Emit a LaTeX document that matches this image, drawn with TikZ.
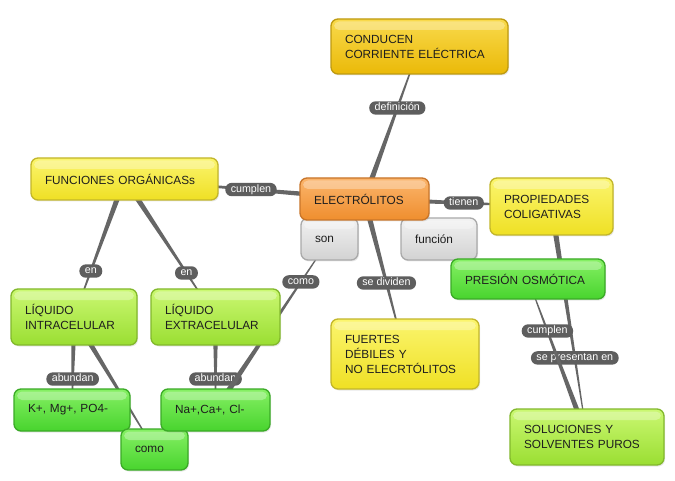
\documentclass[tikz,border=0pt]{standalone}
\usepackage{fontspec}
\setmainfont{Liberation Sans}
\usetikzlibrary{calc,shadows}
\pgfdeclarelayer{background}
\pgfsetlayers{background,main}
\definecolor{linkc}{HTML}{666666}
\definecolor{pillc}{HTML}{5E5E5E}
\definecolor{txtc}{HTML}{1E1E1E}
\definecolor{goldT}{HTML}{F9DA4C}
\definecolor{goldB}{HTML}{EAB908}
\definecolor{goldD}{HTML}{BE9A10}
\definecolor{oraT}{HTML}{FBB56C}
\definecolor{oraB}{HTML}{EF8E2E}
\definecolor{oraD}{HTML}{C8752A}
\definecolor{grayT}{HTML}{F2F2F2}
\definecolor{grayB}{HTML}{D2D2D2}
\definecolor{grayD}{HTML}{A9A9A9}
\definecolor{yelT}{HTML}{FBF56E}
\definecolor{yelB}{HTML}{EFE024}
\definecolor{yelD}{HTML}{C2B62A}
\definecolor{grnT}{HTML}{86F064}
\definecolor{grnB}{HTML}{48D42E}
\definecolor{grnD}{HTML}{3AAA26}
\definecolor{ygT}{HTML}{CBF872}
\definecolor{ygB}{HTML}{9ADE32}
\definecolor{ygD}{HTML}{82B82C}
\newcommand{\boxfont}{\fontsize{11.8}{15}\selectfont}
\newcommand{\pillfont}{\fontsize{10.7}{12}\selectfont}
\newcommand{\taperlink}[2]{%
  \fill[linkc] ($(#1.center)!2.9pt!90:(#2.center)$) -- ($(#2.center)!0.3pt!-90:(#1.center)$)
    -- ($(#2.center)!0.3pt!90:(#1.center)$) -- ($(#1.center)!2.9pt!-90:(#2.center)$) -- cycle;}
\tikzset{
  box/.style={rounded corners=7pt, line width=1.3pt, align=left, inner xsep=14pt, inner ysep=0pt,
    font=\boxfont, text=txtc,
    drop shadow={opacity=0.18, shadow xshift=1pt, shadow yshift=-1.5pt},
    path picture={\fill[white, opacity=0.3, rounded corners=5pt]
      ($(path picture bounding box.north west)+(3pt,-2.5pt)$) rectangle
      ($(path picture bounding box.north east)+(-3pt,-11pt)$);}},
  goldbox/.style={box, top color=goldT, bottom color=goldB, draw=goldD},
  orabox/.style={box, top color=oraT, bottom color=oraB, draw=oraD},
  graybox/.style={box, top color=grayT, bottom color=grayB, draw=grayD},
  yelbox/.style={box, top color=yelT, bottom color=yelB, draw=yelD},
  grnbox/.style={box, top color=grnT, bottom color=grnB, draw=grnD},
  ygbox/.style={box, top color=ygT, bottom color=ygB, draw=ygD},
  pill/.style={fill=pillc, text=white, rounded corners=6.5pt, inner xsep=5.5pt, inner ysep=0pt,
    minimum height=13.4pt, font=\pillfont, text height=7.8pt, text depth=2.2pt},
}
\begin{document}
\begin{tikzpicture}[x=1pt,y=-1pt]
\useasboundingbox (0,0) rectangle (675,481);
% boxes
\node[goldbox, minimum width=177pt, minimum height=55pt, text width=149pt] (cond) at (419.5,46.5) {CONDUCEN\\CORRIENTE ELÉCTRICA};
\node[graybox, minimum width=57pt, minimum height=42pt, text width=29pt] (son) at (329.5,239) {son};
\node[graybox, minimum width=76pt, minimum height=42pt, text width=48pt] (func) at (439,239) {función};
\node[orabox, minimum width=129pt, minimum height=42pt, text width=101pt] (elec) at (364.5,199) {ELECTRÓLITOS};
\node[yelbox, minimum width=187pt, minimum height=42pt, text width=159pt] (forg) at (124.5,179) {FUNCIONES ORGÁNICASs};
\node[yelbox, minimum width=123pt, minimum height=57pt, text width=95pt] (prop) at (551.5,206.5) {PROPIEDADES\\COLIGATIVAS};
\node[grnbox, minimum width=154pt, minimum height=40pt, text width=126pt] (pres) at (528,279) {PRESIÓN OSMÓTICA};
\node[ygbox, minimum width=126pt, minimum height=56pt, text width=98pt] (intra) at (74,317) {LÍQUIDO\\INTRACELULAR};
\node[ygbox, minimum width=129pt, minimum height=56pt, text width=101pt] (extra) at (215.5,317) {LÍQUIDO\\EXTRACELULAR};
\node[grnbox, minimum width=116pt, minimum height=42pt, text width=88pt] (kmg) at (72,410) {K+, Mg+, PO4-};
\node[grnbox, minimum width=67pt, minimum height=41pt, text width=39pt] (comob) at (154.5,449.5) {como};
\node[grnbox, minimum width=109pt, minimum height=42pt, text width=81pt] (naca) at (215.5,410) {Na+,Ca+, Cl-};
\node[yelbox, minimum width=148pt, minimum height=70pt, text width=120pt] (fuer) at (405,354) {FUERTES\\DÉBILES Y\\NO ELECRTÓLITOS};
\node[ygbox, minimum width=154pt, minimum height=56pt, text width=126pt] (sol) at (587,437) {SOLUCIONES Y\\SOLVENTES PUROS};
% connectors
\begin{pgfonlayer}{background}
\fill[white] (0,0) rectangle (675,481);
\taperlink{elec}{cond}
\node[pill] (l1) at ($(cond.center)!0.403!(elec.center)$) {definición};
\taperlink{elec}{forg}
\node[pill] (l2) at ($(forg.center)!0.527!(elec.center)$) {cumplen};
\taperlink{elec}{prop}
\node[pill] (l3) at ($(elec.center)!0.531!(prop.center)$) {tienen};
\taperlink{forg}{intra}
\node[pill] (l4) at ($(forg.center)!0.667!(intra.center)$) {en};
\taperlink{forg}{extra}
\node[pill] (l5) at ($(forg.center)!0.681!(extra.center)$) {en};
\taperlink{extra}{naca}
\node[pill] (l6) at ($(extra.center)!0.667!(naca.center)$) {abundan};
\taperlink{naca}{son}
\node[pill] (l7) at ($(son.center)!0.251!(naca.center)$) {como};
\taperlink{intra}{kmg}
\node[pill] (l8) at ($(intra.center)!0.667!(kmg.center)$) {abundan};
\taperlink{intra}{comob}
\taperlink{elec}{fuer}
\node[pill] (l9) at ($(elec.center)!0.542!(fuer.center)$) {se dividen};
\taperlink{prop}{sol}
\node[pill] (l10) at ($(prop.center)!0.657!(sol.center)$) {se presentan en};
\taperlink{sol}{pres}
\node[pill] (l11) at ($(pres.center)!0.329!(sol.center)$) {cumplen};
\end{pgfonlayer}
\end{tikzpicture}
\end{document}
